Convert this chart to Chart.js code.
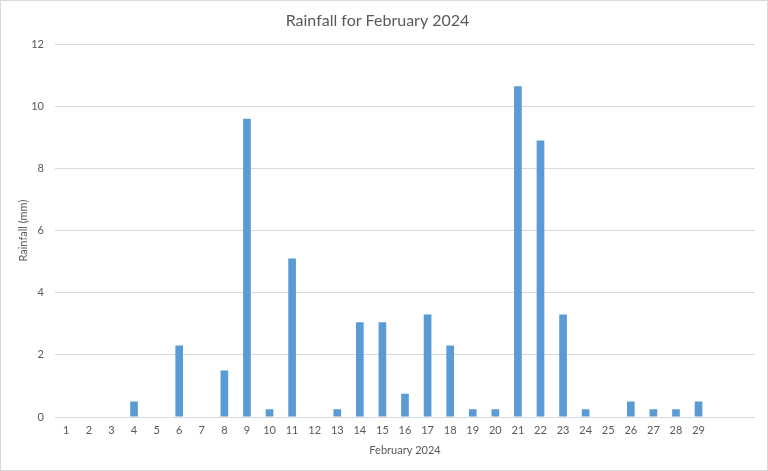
<!DOCTYPE html>
<html>
<head>
<meta charset="utf-8">
<script src="https://cdn.jsdelivr.net/npm/chart.js@4/dist/chart.umd.min.js"></script>
<style>
  html, body { margin: 0; padding: 0; background: #fff; }
  #wrap { width: 768px; height: 471px; position: relative; }
</style>
</head>
<body>
<div id="wrap"><canvas id="chart" width="768" height="471"></canvas></div>
<script>
    // Days of the month (two blank slots at the end, as in the source sheet)
    const days = ['1','2','3','4','5','6','7','8','9','10','11','12','13','14','15',
                  '16','17','18','19','20','21','22','23','24','25','26','27','28','29','',''];
    const rainfall = [0, 0, 0, 0.5, 0, 2.3, 0, 1.5, 9.6, 0.25, 5.1, 0, 0.25, 3.05, 3.05,
                      0.75, 3.3, 2.3, 0.25, 0.25, 10.65, 8.9, 3.3, 0.25, 0, 0.5, 0.25, 0.25, 0.5, null, null];
    const yTicks = [0, 2, 4, 6, 8, 10, 12];

    const FONT = "Lato, 'Open Sans', sans-serif";
    const TEXT = '#595959';
    const GRID = '#d9d9d9';

    // thin frame round the whole chart, like the spreadsheet chart box
    const frame = {
        id: 'frame',
        afterDraw(chart) {
            const c = chart.ctx;
            c.save();
            c.strokeStyle = GRID;
            c.lineWidth = 1;
            c.strokeRect(0.5, 0.5, chart.width - 1, chart.height - 1);
            c.restore();
        }
    };

    new Chart(document.getElementById('chart').getContext('2d'), {
        type: 'bar',
        data: {
            labels: days,
            datasets: [{
                label: 'Rainfall (mm)',
                data: rainfall,
                backgroundColor: '#5b9bd5',
                barPercentage: 0.34,
                categoryPercentage: 1.0
            }]
        },
        options: {
            responsive: false,
            animation: false,
            layout: { padding: { left: 0, right: 13, top: 0, bottom: 0 } },
            plugins: {
                legend: { display: false },
                tooltip: { enabled: false },
                title: {
                    display: true,
                    text: 'Rainfall for February 2024',
                    color: TEXT,
                    font: { family: FONT, size: 16, weight: 'normal' },
                    padding: { top: 11, bottom: 14 }
                }
            },
            scales: {
                x: {
                    grid: { display: false, drawTicks: false },
                    border: { display: false },
                    ticks: { color: TEXT, font: { family: FONT, size: 11 }, padding: 7, maxRotation: 0, autoSkip: false },
                    title: {
                        display: true,
                        text: 'February 2024',
                        color: TEXT,
                        font: { family: FONT, size: 11 },
                        padding: { top: 4, bottom: 14 }
                    },
                    afterFit: s => { s.height = 54; }
                },
                y: {
                    min: 0,
                    max: 12,
                    afterBuildTicks: s => { s.ticks = yTicks.map(v => ({ value: v })); },
                    grid: { color: GRID, drawTicks: false },
                    border: { display: false },
                    ticks: { color: TEXT, font: { family: FONT, size: 11 }, padding: 11 },
                    title: {
                        display: true,
                        text: 'Rainfall (mm)',
                        color: TEXT,
                        font: { family: FONT, size: 11 },
                        padding: { top: 17, bottom: 0 }
                    },
                    afterFit: s => { s.width = 55; }
                }
            }
        },
        plugins: [frame]
    });
</script>
</body>
</html>
